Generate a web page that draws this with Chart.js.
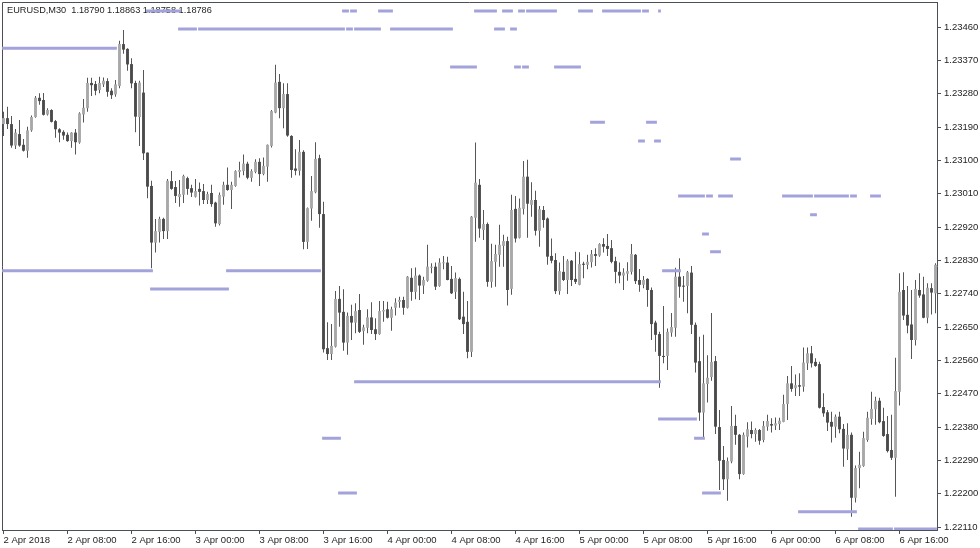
<!DOCTYPE html>
<html>
<head>
<meta charset="utf-8">
<title>EURUSD,M30</title>
<script src="https://cdn.jsdelivr.net/npm/chart.js@4/dist/chart.umd.min.js"></script>
<style>
  html, body { margin: 0; padding: 0; background: #fff; }
  #wrap { width: 980px; height: 548px; }
</style>
</head>
<body>
<div id="wrap"><canvas id="chart" width="980" height="548"></canvas></div>
<script>
// EURUSD M30 candles, 2 Apr 2018 00:00 .. 6 Apr 2018 20:30
const open = [
  1.23198, 1.23214, 1.23198, 1.23140, 1.23171, 1.23142, 1.23126, 1.23181, 1.23217, 1.23269,
  1.23263, 1.23224, 1.23236, 1.23206, 1.23184, 1.23177, 1.23169, 1.23152, 1.23175, 1.23148,
  1.23224, 1.23241, 1.23309, 1.23306, 1.23290, 1.23305, 1.23314, 1.23288, 1.23278, 1.23301,
  1.23414, 1.23401, 1.23360, 1.23309, 1.23217, 1.23283, 1.23121, 1.23031, 1.22878, 1.22907,
  1.22942, 1.22909, 1.23044, 1.23028, 1.23001, 1.23007, 1.23052, 1.23025, 1.23002, 1.23023,
  1.23017, 1.22993, 1.23012, 1.22986, 1.22928, 1.23002, 1.23034, 1.23020, 1.23031, 1.23069,
  1.23071, 1.23091, 1.23053, 1.23069, 1.23096, 1.23063, 1.23083, 1.23139, 1.23229, 1.23312,
  1.23241, 1.23279, 1.23166, 1.23078, 1.23072, 1.23123, 1.22880, 1.22970, 1.23014, 1.23106,
  1.22955, 1.22593, 1.22577, 1.22597, 1.22726, 1.22691, 1.22608, 1.22680, 1.22662, 1.22696,
  1.22639, 1.22648, 1.22676, 1.22644, 1.22631, 1.22692, 1.22698, 1.22675, 1.22702, 1.22718,
  1.22723, 1.22702, 1.22783, 1.22745, 1.22789, 1.22762, 1.22775, 1.22810, 1.22813, 1.22761,
  1.22822, 1.22824, 1.22780, 1.22745, 1.22780, 1.22678, 1.22664, 1.22583, 1.22945, 1.23034,
  1.22912, 1.22928, 1.22772, 1.22826, 1.22845, 1.22869, 1.22882, 1.22753, 1.22969, 1.22891,
  1.22969, 1.23056, 1.22980, 1.22993, 1.22910, 1.22966, 1.22943, 1.22842, 1.22831, 1.22747,
  1.22799, 1.22777, 1.22829, 1.22780, 1.22764, 1.22821, 1.22818, 1.22825, 1.22847, 1.22843,
  1.22874, 1.22869, 1.22863, 1.22828, 1.22799, 1.22789, 1.22794, 1.22799, 1.22845, 1.22777,
  1.22764, 1.22780, 1.22750, 1.22662, 1.22631, 1.22572, 1.22572, 1.22635, 1.22648, 1.22786,
  1.22761, 1.22761, 1.22797, 1.22656, 1.22558, 1.22419, 1.22496, 1.22515, 1.22558, 1.22380,
  1.22291, 1.22239, 1.22287, 1.22383, 1.22359, 1.22253, 1.22354, 1.22372, 1.22361, 1.22372,
  1.22345, 1.22381, 1.22388, 1.22384, 1.22388, 1.22394, 1.22442, 1.22498, 1.22485, 1.22493,
  1.22489, 1.22552, 1.22579, 1.22556, 1.22550, 1.22434, 1.22420, 1.22394, 1.22381, 1.22408,
  1.22375, 1.22320, 1.22359, 1.22189, 1.22269, 1.22275, 1.22345, 1.22402, 1.22428, 1.22451,
  1.22396, 1.22361, 1.22318, 1.22297, 1.22475, 1.22750, 1.22683, 1.22657, 1.22615, 1.22750,
  1.22738, 1.22675, 1.22755, 1.22741
];
const high = [
  1.23231, 1.23245, 1.23220, 1.23185, 1.23209, 1.23158, 1.23191, 1.23221, 1.23274, 1.23281,
  1.23282, 1.23241, 1.23238, 1.23209, 1.23187, 1.23181, 1.23175, 1.23176, 1.23185, 1.23230,
  1.23266, 1.23323, 1.23323, 1.23314, 1.23326, 1.23324, 1.23322, 1.23295, 1.23317, 1.23423,
  1.23452, 1.23403, 1.23376, 1.23315, 1.23315, 1.23344, 1.23121, 1.23045, 1.22942, 1.22948,
  1.22945, 1.23050, 1.23071, 1.23044, 1.23047, 1.23061, 1.23056, 1.23034, 1.23050, 1.23040,
  1.23036, 1.23015, 1.23034, 1.22988, 1.23013, 1.23042, 1.23081, 1.23042, 1.23073, 1.23096,
  1.23116, 1.23096, 1.23076, 1.23103, 1.23106, 1.23108, 1.23143, 1.23236, 1.23358, 1.23333,
  1.23308, 1.23308, 1.23168, 1.23130, 1.23155, 1.23127, 1.22973, 1.23058, 1.23149, 1.23115,
  1.22988, 1.22663, 1.22658, 1.22747, 1.22761, 1.22752, 1.22689, 1.22710, 1.22714, 1.22739,
  1.22656, 1.22698, 1.22717, 1.22674, 1.22720, 1.22720, 1.22718, 1.22705, 1.22728, 1.22732,
  1.22732, 1.22788, 1.22809, 1.22811, 1.22792, 1.22786, 1.22872, 1.22822, 1.22824, 1.22836,
  1.22842, 1.22840, 1.22815, 1.22797, 1.22784, 1.22745, 1.22720, 1.22950, 1.23148, 1.23050,
  1.22966, 1.22932, 1.22875, 1.22872, 1.22926, 1.22899, 1.22894, 1.23007, 1.23004, 1.22997,
  1.23098, 1.23102, 1.23041, 1.23018, 1.22977, 1.22977, 1.22946, 1.22889, 1.22849, 1.22824,
  1.22842, 1.22833, 1.22831, 1.22853, 1.22852, 1.22826, 1.22845, 1.22858, 1.22863, 1.22876,
  1.22890, 1.22901, 1.22885, 1.22840, 1.22824, 1.22809, 1.22825, 1.22874, 1.22847, 1.22807,
  1.22788, 1.22782, 1.22757, 1.22667, 1.22637, 1.22707, 1.22646, 1.22688, 1.22810, 1.22836,
  1.22788, 1.22801, 1.22815, 1.22662, 1.22624, 1.22629, 1.22574, 1.22688, 1.22572, 1.22426,
  1.22329, 1.22298, 1.22437, 1.22413, 1.22361, 1.22365, 1.22393, 1.22395, 1.22377, 1.22375,
  1.22396, 1.22413, 1.22404, 1.22406, 1.22405, 1.22467, 1.22518, 1.22545, 1.22522, 1.22525,
  1.22595, 1.22595, 1.22599, 1.22566, 1.22556, 1.22471, 1.22426, 1.22421, 1.22414, 1.22421,
  1.22388, 1.22390, 1.22365, 1.22276, 1.22313, 1.22367, 1.22421, 1.22475, 1.22462, 1.22459,
  1.22432, 1.22410, 1.22413, 1.22567, 1.22795, 1.22798, 1.22761, 1.22750, 1.22777, 1.22795,
  1.22786, 1.22768, 1.22768, 1.22822
];
const low = [
  1.23166, 1.23185, 1.23134, 1.23131, 1.23137, 1.23124, 1.23107, 1.23177, 1.23215, 1.23250,
  1.23221, 1.23221, 1.23202, 1.23161, 1.23149, 1.23156, 1.23150, 1.23134, 1.23116, 1.23145,
  1.23202, 1.23231, 1.23274, 1.23276, 1.23281, 1.23298, 1.23272, 1.23266, 1.23272, 1.23295,
  1.23388, 1.23342, 1.23295, 1.23176, 1.23139, 1.23101, 1.22998, 1.22809, 1.22851, 1.22878,
  1.22888, 1.22888, 1.23021, 1.22985, 1.22975, 1.22985, 1.23007, 1.23001, 1.23000, 1.22978,
  1.22982, 1.22982, 1.22975, 1.22921, 1.22924, 1.22980, 1.23018, 1.22969, 1.23029, 1.23054,
  1.23060, 1.23049, 1.23042, 1.23065, 1.23031, 1.23060, 1.23042, 1.23135, 1.23227, 1.23214,
  1.23187, 1.23164, 1.23053, 1.23060, 1.23059, 1.22860, 1.22861, 1.22937, 1.23011, 1.22918,
  1.22581, 1.22561, 1.22561, 1.22595, 1.22651, 1.22586, 1.22575, 1.22615, 1.22633, 1.22634,
  1.22602, 1.22633, 1.22631, 1.22615, 1.22629, 1.22664, 1.22673, 1.22640, 1.22681, 1.22702,
  1.22683, 1.22700, 1.22721, 1.22725, 1.22723, 1.22739, 1.22772, 1.22795, 1.22750, 1.22759,
  1.22806, 1.22776, 1.22739, 1.22726, 1.22669, 1.22631, 1.22566, 1.22569, 1.22880, 1.22891,
  1.22885, 1.22759, 1.22756, 1.22759, 1.22813, 1.22813, 1.22708, 1.22737, 1.22878, 1.22889,
  1.22954, 1.22891, 1.22948, 1.22897, 1.22867, 1.22918, 1.22818, 1.22822, 1.22739, 1.22737,
  1.22774, 1.22739, 1.22761, 1.22766, 1.22763, 1.22782, 1.22806, 1.22811, 1.22815, 1.22840,
  1.22851, 1.22842, 1.22822, 1.22768, 1.22768, 1.22750, 1.22775, 1.22792, 1.22766, 1.22745,
  1.22755, 1.22705, 1.22615, 1.22583, 1.22486, 1.22552, 1.22534, 1.22624, 1.22624, 1.22729,
  1.22718, 1.22687, 1.22631, 1.22527, 1.22397, 1.22352, 1.22446, 1.22505, 1.22361, 1.22210,
  1.22210, 1.22181, 1.22282, 1.22332, 1.22239, 1.22251, 1.22325, 1.22350, 1.22340, 1.22332,
  1.22339, 1.22370, 1.22365, 1.22372, 1.22372, 1.22393, 1.22399, 1.22475, 1.22464, 1.22464,
  1.22475, 1.22534, 1.22541, 1.22543, 1.22430, 1.22408, 1.22369, 1.22338, 1.22351, 1.22363,
  1.22273, 1.22291, 1.22138, 1.22176, 1.22215, 1.22273, 1.22340, 1.22386, 1.22386, 1.22390,
  1.22354, 1.22311, 1.22291, 1.22192, 1.22438, 1.22669, 1.22633, 1.22564, 1.22600, 1.22729,
  1.22674, 1.22660, 1.22684, 1.22687
];
const close = [
  1.23214, 1.23198, 1.23140, 1.23175, 1.23140, 1.23126, 1.23181, 1.23217, 1.23269, 1.23260,
  1.23223, 1.23236, 1.23204, 1.23184, 1.23175, 1.23167, 1.23152, 1.23175, 1.23149, 1.23227,
  1.23242, 1.23309, 1.23303, 1.23288, 1.23309, 1.23315, 1.23285, 1.23276, 1.23305, 1.23414,
  1.23399, 1.23359, 1.23308, 1.23218, 1.23310, 1.23119, 1.23029, 1.22878, 1.22909, 1.22942,
  1.22909, 1.23045, 1.23023, 1.23004, 1.23009, 1.23058, 1.23023, 1.23013, 1.23017, 1.23015,
  1.22993, 1.23009, 1.22982, 1.22930, 1.23007, 1.23034, 1.23020, 1.23034, 1.23071, 1.23074,
  1.23091, 1.23053, 1.23071, 1.23096, 1.23063, 1.23085, 1.23142, 1.23233, 1.23310, 1.23241,
  1.23279, 1.23167, 1.23074, 1.23072, 1.23123, 1.22880, 1.22971, 1.23017, 1.23104, 1.22955,
  1.22590, 1.22577, 1.22599, 1.22726, 1.22689, 1.22608, 1.22680, 1.22662, 1.22693, 1.22637,
  1.22649, 1.22676, 1.22642, 1.22631, 1.22693, 1.22696, 1.22675, 1.22698, 1.22716, 1.22723,
  1.22702, 1.22786, 1.22745, 1.22789, 1.22762, 1.22777, 1.22813, 1.22813, 1.22759, 1.22824,
  1.22824, 1.22777, 1.22741, 1.22782, 1.22671, 1.22658, 1.22583, 1.22948, 1.23040, 1.22916,
  1.22928, 1.22772, 1.22828, 1.22847, 1.22872, 1.22882, 1.22750, 1.22966, 1.22889, 1.22972,
  1.23056, 1.22983, 1.22993, 1.22910, 1.22968, 1.22939, 1.22840, 1.22829, 1.22747, 1.22801,
  1.22777, 1.22829, 1.22777, 1.22772, 1.22820, 1.22818, 1.22826, 1.22847, 1.22842, 1.22874,
  1.22867, 1.22861, 1.22826, 1.22799, 1.22789, 1.22797, 1.22801, 1.22847, 1.22774, 1.22764,
  1.22777, 1.22750, 1.22658, 1.22629, 1.22572, 1.22569, 1.22637, 1.22650, 1.22786, 1.22759,
  1.22759, 1.22798, 1.22656, 1.22554, 1.22419, 1.22498, 1.22513, 1.22556, 1.22381, 1.22289,
  1.22239, 1.22288, 1.22383, 1.22359, 1.22253, 1.22359, 1.22374, 1.22361, 1.22372, 1.22343,
  1.22383, 1.22396, 1.22384, 1.22390, 1.22397, 1.22442, 1.22498, 1.22483, 1.22493, 1.22489,
  1.22554, 1.22579, 1.22552, 1.22545, 1.22432, 1.22417, 1.22392, 1.22381, 1.22408, 1.22374,
  1.22322, 1.22359, 1.22189, 1.22269, 1.22278, 1.22350, 1.22405, 1.22429, 1.22451, 1.22393,
  1.22356, 1.22315, 1.22297, 1.22477, 1.22745, 1.22681, 1.22654, 1.22615, 1.22753, 1.22735,
  1.22675, 1.22756, 1.22743, 1.22818
];

// time axis: one label every 16 bars (8 hours of M30)
const timeLabels = [
  '2 Apr 2018', '2 Apr 08:00', '2 Apr 16:00', '3 Apr 00:00', '3 Apr 08:00',
  '3 Apr 16:00', '4 Apr 00:00', '4 Apr 08:00', '4 Apr 16:00', '5 Apr 00:00',
  '5 Apr 08:00', '5 Apr 16:00', '6 Apr 00:00', '6 Apr 08:00', '6 Apr 16:00'
];
const barsPerLabel = 16;

const priceLabels = [
  '1.23460', '1.23370', '1.23280', '1.23190', '1.23100', '1.23010', '1.22920', '1.22830',
  '1.22740', '1.22650', '1.22560', '1.22470', '1.22380', '1.22290', '1.22200', '1.22110'
];

// horizontal level segments (price, first bar, last bar)
const levelPrice = [
  1.23503, 1.23503, 1.23503, 1.23503, 1.23503, 1.23503, 1.23503, 1.23503, 1.23503, 1.23503, 1.23503, 1.23503,
  1.23455, 1.23455, 1.23455, 1.23455, 1.23455, 1.23455, 1.23455,
  1.23403,
  1.23352, 1.23352, 1.23352, 1.23352,
  1.23203, 1.23203,
  1.23152, 1.23152,
  1.23104,
  1.23004, 1.23004, 1.23004, 1.23004, 1.23004, 1.23004, 1.23004,
  1.22953, 1.22901, 1.22853,
  1.22802, 1.22802, 1.22802,
  1.22753, 1.22502, 1.22402,
  1.22350, 1.22350,
  1.22202, 1.22202,
  1.22151,
  1.22105, 1.22105
];
const levelFrom = [
  36, 85, 87, 94, 118, 125, 129, 131, 144, 150, 160, 164,
  44, 49, 86, 88, 97, 123, 127,
  0,
  112, 128, 130, 138,
  147, 161,
  159, 163,
  182,
  169, 176, 179, 195, 203, 212, 217,
  202, 175, 177,
  0, 56, 165,
  37, 88, 164,
  80, 173,
  84, 175,
  199,
  214, 223
];
const levelTo = [
  44, 86, 88, 97, 123, 127, 130, 138, 147, 159, 161, 164,
  48, 85, 87, 94, 112, 125, 128,
  28,
  118, 129, 131, 144,
  150, 163,
  160, 164,
  184,
  175, 177, 182, 202, 211, 213, 219,
  203, 176, 179,
  37, 79, 169,
  56, 164, 173,
  84, 175,
  88, 179,
  213,
  222, 233
];

const headerSymbol = 'EURUSD,M30';
const headerQuote = ['1.18790', '1.18863', '1.18758', '1.18786'];

const UP_COLOR = '#a8a8a8';
const DOWN_COLOR = '#4a4a4a';
const WICK_COLOR = '#565656';
const LEVEL_COLOR = '#a3a3dc';
const AXIS_COLOR = '#4b5058';
const TEXT_COLOR = '#1e1e1e';
const FONT = { family: '"Liberation Sans", Arial, sans-serif', size: 9.5 };

const idx = open.map((v, i) => i);
const bodyData = idx.map(i => ({ x: i, y: [open[i], close[i]] }));
const wickData = idx.map(i => ({ x: i, y: [low[i], high[i]] }));
const bodyColors = idx.map(i => (close[i] >= open[i] ? UP_COLOR : DOWN_COLOR));

const levelData = [];
levelPrice.forEach((p, k) => {
  levelData.push({ x: levelFrom[k] - 0.35, y: p });
  levelData.push({ x: levelTo[k] + 0.35, y: p });
  levelData.push({ x: levelTo[k] + 0.35, y: null });
});

const tickBars = timeLabels.map((t, k) => k * barsPerLabel);
const tickPrices = priceLabels.map(Number);

// frame lines on the left and top + the symbol header
const framePlugin = {
  id: 'frame',
  beforeDatasetsDraw(chart) {
    const c = chart.ctx;
    const a = chart.chartArea;
    c.save();
    c.strokeStyle = AXIS_COLOR;
    c.lineWidth = 1;
    c.beginPath();
    c.moveTo(a.left + 0.5, a.bottom);
    c.lineTo(a.left + 0.5, a.top + 0.5);
    c.lineTo(a.right, a.top + 0.5);
    c.stroke();
    c.font = '9.2px ' + FONT.family;
    c.fillStyle = TEXT_COLOR;
    c.textBaseline = 'middle';
    c.fillText(headerSymbol + '  ' + headerQuote.join(' '), a.left + 5, a.top + 8);
    c.restore();
  }
};

new Chart(document.getElementById('chart'), {
  type: 'bar',
  data: {
    datasets: [
      {
        type: 'line',
        data: levelData,
        borderColor: LEVEL_COLOR,
        borderWidth: 3,
        borderCapStyle: 'butt',
        pointRadius: 0,
        spanGaps: false,
        tension: 0,
        order: 0
      },
      {
        data: bodyData,
        backgroundColor: bodyColors,
        borderWidth: 0,
        grouped: false,
        maxBarThickness: 3,
        minBarLength: 1,
        inflateAmount: 0,
        order: 1
      },
      {
        data: wickData,
        backgroundColor: WICK_COLOR,
        borderWidth: 0,
        grouped: false,
        maxBarThickness: 1,
        inflateAmount: 0,
        order: 2
      }
    ]
  },
  options: {
    responsive: false,
    devicePixelRatio: 1,
    animation: false,
    events: [],
    layout: { padding: { left: 2, top: 2, right: 0, bottom: 0 } },
    plugins: {
      legend: { display: false },
      tooltip: { enabled: false }
    },
    scales: {
      x: {
        type: 'linear',
        offset: false,
        min: -0.375,
        max: open.length - 1 + 0.375,
        grid: { offset: false, drawOnChartArea: false, drawTicks: true, tickLength: 4, color: AXIS_COLOR },
        border: { display: true, color: AXIS_COLOR },
        ticks: {
          autoSkip: false,
          maxRotation: 0,
          minRotation: 0,
          align: 'start',
          padding: 1,
          color: TEXT_COLOR,
          font: FONT,
          callback: (v, i) => timeLabels[i]
        },
        afterBuildTicks: s => { s.ticks = tickBars.map(v => ({ value: v })); },
        afterFit: s => { s.height = 18; s.paddingLeft = 0; s.paddingRight = 0; }
      },
      y: {
        type: 'linear',
        position: 'right',
        bounds: 'data',
        min: 1.22102,
        max: 1.235276,
        grid: { drawOnChartArea: false, drawTicks: true, tickLength: 4, color: AXIS_COLOR },
        border: { display: true, color: AXIS_COLOR },
        ticks: {
          padding: 3,
          color: TEXT_COLOR,
          font: FONT,
          callback: (v, i) => priceLabels[i]
        },
        afterBuildTicks: s => { s.ticks = tickPrices.map(v => ({ value: v })); },
        afterFit: s => { s.width = 43; s.paddingTop = 0; s.paddingBottom = 0; }
      }
    }
  },
  plugins: [framePlugin]
});
</script>
</body>
</html>
